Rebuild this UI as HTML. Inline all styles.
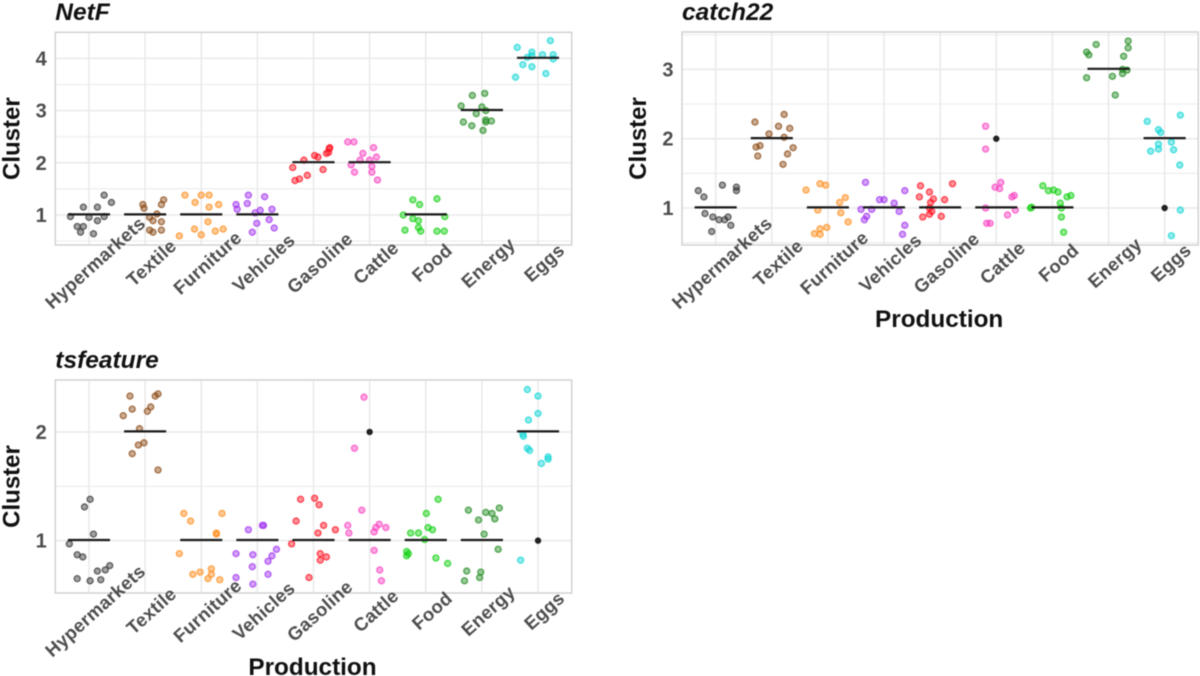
<!DOCTYPE html>
<html lang="en">
<head>
<meta charset="utf-8">
<title>Cluster by Production</title>
<style>
html,body{margin:0;padding:0;background:#fff;}
svg{display:block;font-family:"Liberation Sans",sans-serif;}
#stage{filter:blur(0.5px);}
</style>
</head>
<body>
<svg id="chart" xmlns="http://www.w3.org/2000/svg" width="1200" height="676" viewBox="0 0 1200 676">
<g id="stage"></g>
</svg>
<script>
const categories = ["Hypermarkets","Textile","Furniture","Vehicles","Gasoline","Cattle","Food","Energy","Eggs"];
const categoryColors = ["#333333","#8b4a14","#ff8c1a","#a030f0","#ff1020","#f840c0","#10d010","#228b22","#10d5d5"];

const netfMeans = [1,1,1,1,2,2,1,3,4];
const netfJitter = [
 [.27,.40,-.10,.15,-.33,0,.27,.15,-.21,-.10,-.15,.08],
 [-.04,-.02,.33,.29,.21,.08,.14,.29,.08,.14,.29],
 [-.29,0,.14,-.11,.31,.14,.12,-.12,.39,.25,0,-.39],
 [-.16,.13,-.38,-.18,-.36,.26,.05,-.04,.21,-.01,.30,-.09],
 [-.37,-.17,-.11,-.25,-.33,.02,.08,.17,.23,.27,.28,.29],
 [-.39,-.28,.07,-.12,.12,-.17,0,-.33,.04,-.27,.04,.14],
 [-.23,-.11,.20,-.40,.34,-.23,-.13,-.13,-.37,-.09,.20,.33],
 [.05,-.17,-.37,0,.07,-.10,.07,.17,.07,-.33,-.18,.02],
 [.22,-.37,-.11,-.11,-.19,.08,.27,.27,-.27,-.11,.14,-.40]
];
const netfValues = [
 [1.38,1.24,1.15,1.15,.97,.955,.97,.89,.78,.78,.67,.64],
 [1.20,1.13,1.29,1.20,1.02,.955,.89,.87,.71,.67,.71],
 [1.38,1.38,1.38,1.24,1.20,1.15,.87,.73,.73,.69,.62,.60],
 [1.38,1.35,1.20,1.22,1.11,1.11,1.09,1.04,.91,.84,.75,.67],
 [1.91,2.05,1.76,1.69,1.66,2.14,2.11,1.87,2.18,2.20,2.27,2.29],
 [2.40,2.40,2.29,2.18,2.11,2.05,2.05,1.96,1.93,1.82,1.82,1.67],
 [1.29,1.20,1.31,1.00,.97,.93,.89,.76,.71,.69,.69,.69],
 [3.33,3.29,3.09,3.07,3.00,2.94,2.82,2.80,2.78,2.78,2.71,2.62],
 [4.34,4.21,4.12,4.05,4.02,4.07,4.07,3.99,3.88,3.84,3.71,3.64]
];
const netfOutlierCategories = [];
const netfOutlierValues = [];
const netfTicks = [1,2,3,4];
const netfMinorTicks = [.5,1.5,2.5,3.5,4.5];

const catch22Means = [1,2,1,1,1,1,1,3,2];
const catch22Jitter = [
 [-.31,-.21,.12,.37,.37,-.19,-.05,.06,.16,.22,.27,-.07],
 [.22,-.30,.12,.32,-.05,.22,-.21,-.28,.38,.28,-.25,.20],
 [-.14,-.04,-.39,.31,.21,-.18,.23,.36,-.02,-.14,-.24,-.14],
 [-.33,.37,-.08,0,.18,-.41,-.22,.27,-.31,-.35,.37,.33],
 [-.35,.22,-.19,-.37,-.12,.08,-.17,-.19,-.15,-.19,-.31,.02],
 [-.19,-.19,.08,-.02,.06,.32,.28,-.19,.34,.20,-.17,-.11],
 [-.17,-.07,.02,.10,.33,.26,.14,-.39,-.37,.16,.16,.20],
 [.35,-.22,.35,-.39,-.35,.27,.25,.33,.07,.25,-.39,.12],
 [.28,-.31,-.11,-.07,-.11,.12,-.11,-.25,.16,.27,.28,.12]
];
const catch22Values = [
 [1.25,1.16,1.33,1.30,1.25,.92,.87,.83,.83,.87,.75,.66],
 [2.35,2.24,2.18,2.15,2.07,2.02,1.90,1.88,1.87,1.78,1.75,1.63],
 [1.35,1.33,1.26,1.15,1.08,.97,.93,.80,.72,.70,.63,.62],
 [1.37,1.25,1.12,1.12,1.07,.98,.98,.95,.88,.83,.75,.62],
 [1.32,1.35,1.23,1.16,1.13,1.12,1.08,1.00,.95,.91,.87,.88],
 [2.18,1.85,1.37,1.30,1.28,1.18,1.16,1.00,.97,.90,.78,.78],
 [1.32,1.25,1.26,1.23,1.18,1.16,1.07,1.00,1.01,1.00,.87,.65],
 [3.41,3.36,3.31,3.25,3.21,3.19,3.00,2.99,2.90,2.94,2.88,2.63],
 [2.34,2.25,2.13,2.09,1.92,1.95,1.85,1.82,1.84,1.62,.97,.60]
];
const catch22OutlierCategories = ["Cattle","Eggs"];
const catch22OutlierValues = [2,1];
const catch22Ticks = [1,2,3];
const catch22MinorTicks = [.5,1.5,2.5,3.5];

const tsfeatureMeans = [1,2,1,1,1,1,1,1,2];
const tsfeatureJitter = [
 [.02,-.08,.08,-.35,-.21,-.11,.37,.29,.15,-.21,.02,.21],
 [.23,.18,-.27,-.23,.10,.04,-.39,-.10,-.02,-.12,-.23,.23],
 [-.31,.37,-.19,.27,.27,-.39,.18,-.02,-.15,.18,.12,.33],
 [.09,.11,-.16,.34,-.38,-.08,.26,.19,-.09,.19,-.38,-.08],
 [-.23,.02,.10,-.31,.18,.08,.39,-.39,.12,.23,.12,-.08],
 [-.10,-.27,-.14,.17,-.39,.11,.29,-.37,.08,.08,.18,.21],
 [.22,.01,.04,.12,-.27,-.13,-.02,-.34,-.31,-.34,.18,.39],
 [-.24,.07,.18,.31,-.06,.23,.04,.29,-.27,-.02,-.04,-.31],
 [-.19,0,0,-.17,-.27,-.26,-.19,-.15,.18,.18,.06,-.31]
];
const tsfeatureValues = [
 [1.38,1.31,1.06,.97,.87,.85,.77,.73,.72,.65,.63,.64],
 [2.35,2.33,2.33,2.21,2.23,2.19,2.15,2.03,1.90,1.88,1.80,1.65],
 [1.25,1.25,1.18,1.07,1.06,.88,.74,.71,.69,.69,.65,.64],
 [1.14,1.14,1.10,.92,.88,.87,.86,.81,.76,.69,.66,.60],
 [1.38,1.39,1.33,1.18,1.14,1.07,1.10,.97,.88,.85,.82,.66],
 [2.32,1.85,1.28,1.15,1.14,1.12,1.12,1.07,1.08,.91,.73,.63],
 [1.38,1.25,1.12,1.10,1.07,1.07,1.01,.90,.88,.86,.84,.79],
 [1.28,1.26,1.25,1.30,1.19,1.20,1.06,.92,.72,.71,.66,.63],
 [2.39,2.33,2.17,2.11,1.98,1.96,1.85,1.83,1.77,1.75,1.71,.82]
];
const tsfeatureOutlierCategories = ["Cattle","Eggs"];
const tsfeatureOutlierValues = [2,1];
const tsfeatureTicks = [1,2];
const tsfeatureMinorTicks = [1.5];

const NS = "http://www.w3.org/2000/svg";
const stage = document.getElementById("stage");

function make(tag, attrs, parent, text) {
  const el = document.createElementNS(NS, tag);
  for (const k in attrs) el.setAttribute(k, attrs[k]);
  if (text !== undefined) el.textContent = text;
  parent.appendChild(el);
  return el;
}

function drawPanel(p) {
  const xScale = v => p.left + (v - 0.4) * (p.right - p.left) / 9.2;
  const yScale = v => p.bottom - (v - p.yMin) * (p.bottom - p.top) / (p.yMax - p.yMin);

  const g = make("g", {}, stage);
  
  

  const title = make("text", {x: p.left, y: p.titleY, "font-size": 24.5, "font-weight": "bold", "font-style": "italic", fill: "#111"}, g, p.name);
  
  

  p.minor.forEach(v => {
    if (v < p.yMin || v > p.yMax) return;
    const l = make("line", {x1: p.left, x2: p.right, y1: yScale(v), y2: yScale(v), stroke: "#ededed", "stroke-width": 1.2}, g);
    
    
  });
  p.ticks.forEach(v => {
    const l = make("line", {x1: p.left, x2: p.right, y1: yScale(v), y2: yScale(v), stroke: "#e9e9e9", "stroke-width": 1.5}, g);
    
    
    const t = make("text", {x: p.left - 8.5, y: yScale(v) + 7, "text-anchor": "end", "font-size": 20, "font-weight": "bold", fill: "#4d4d4d"}, g, String(v));
    
    
  });
  categories.forEach((c, i) => {
    const x = xScale(i + 1);
    const l = make("line", {x1: x, x2: x, y1: p.top, y2: p.bottom, stroke: "#e9e9e9", "stroke-width": 1.5}, g);
    
    
  });

  const border = make("rect", {x: p.left, y: p.top, width: p.right - p.left, height: p.bottom - p.top, fill: "none", stroke: "#d2d2d2", "stroke-width": 1.5}, g);
  
  

  categories.forEach((c, i) => {
    p.values[i].forEach((v, j) => {
      const pt = make("circle", {cx: xScale(i + 1 + p.jitter[i][j]), cy: yScale(v), r: 3, fill: categoryColors[i], "fill-opacity": 0.45, stroke: categoryColors[i], "stroke-opacity": 0.75, "stroke-width": 1.3}, g);
      
      
    });
  });

  p.outlierCategories.forEach((c, k) => {
    const o = make("circle", {cx: xScale(categories.indexOf(c) + 1), cy: yScale(p.outlierValues[k]), r: 3.2, fill: "#222"}, g);
    
    
  });

  categories.forEach((c, i) => {
    const y = yScale(p.means[i]) - 0.6;
    const b = make("line", {x1: xScale(i + 1 - 0.375), x2: xScale(i + 1 + 0.375), y1: y, y2: y, stroke: "#1a1a1a", "stroke-width": 2.2}, g);
    
    
  });

  categories.forEach((c, i) => {
    const x = xScale(i + 1) + 10.5, y = p.bottom + 22.5;
    const t = make("text", {x: x, y: y, "text-anchor": "middle", "font-size": 18.5, "font-weight": "bold", "letter-spacing": 0.3, fill: "#4d4d4d", transform: "rotate(-42 " + x + " " + y + ")"}, g, c);
    
    
  });

  const yx = p.left - 36, yy = (p.top + p.bottom) / 2;
  const yt = make("text", {x: yx, y: yy, "text-anchor": "middle", "font-size": 24, "font-weight": "bold", fill: "#111", transform: "rotate(-90 " + yx + " " + yy + ")"}, g, "Cluster");
  
  

  if (p.xTitleY) {
    const xt = make("text", {x: (p.left + p.right) / 2 - 1, y: p.xTitleY, "text-anchor": "middle", "font-size": 24.3, "font-weight": "bold", fill: "#111"}, g, "Production");
    
    
  }
}

drawPanel({name: "NetF", left: 55.3, right: 571.7, top: 32.3, bottom: 245, yMin: .425, yMax: 4.5, titleY: 20,
  ticks: netfTicks, minor: netfMinorTicks, means: netfMeans, values: netfValues, jitter: netfJitter,
  outlierCategories: netfOutlierCategories, outlierValues: netfOutlierValues});
drawPanel({name: "catch22", left: 682, right: 1198.3, top: 32, bottom: 245, yMin: .466, yMax: 3.54, titleY: 20, xTitleY: 327,
  ticks: catch22Ticks, minor: catch22MinorTicks, means: catch22Means, values: catch22Values, jitter: catch22Jitter,
  outlierCategories: catch22OutlierCategories, outlierValues: catch22OutlierValues});
drawPanel({name: "tsfeature", left: 55.3, right: 571.7, top: 380, bottom: 593, yMin: .518, yMax: 2.478, titleY: 368, xTitleY: 675,
  ticks: tsfeatureTicks, minor: tsfeatureMinorTicks, means: tsfeatureMeans, values: tsfeatureValues, jitter: tsfeatureJitter,
  outlierCategories: tsfeatureOutlierCategories, outlierValues: tsfeatureOutlierValues});
</script>
</body>
</html>
